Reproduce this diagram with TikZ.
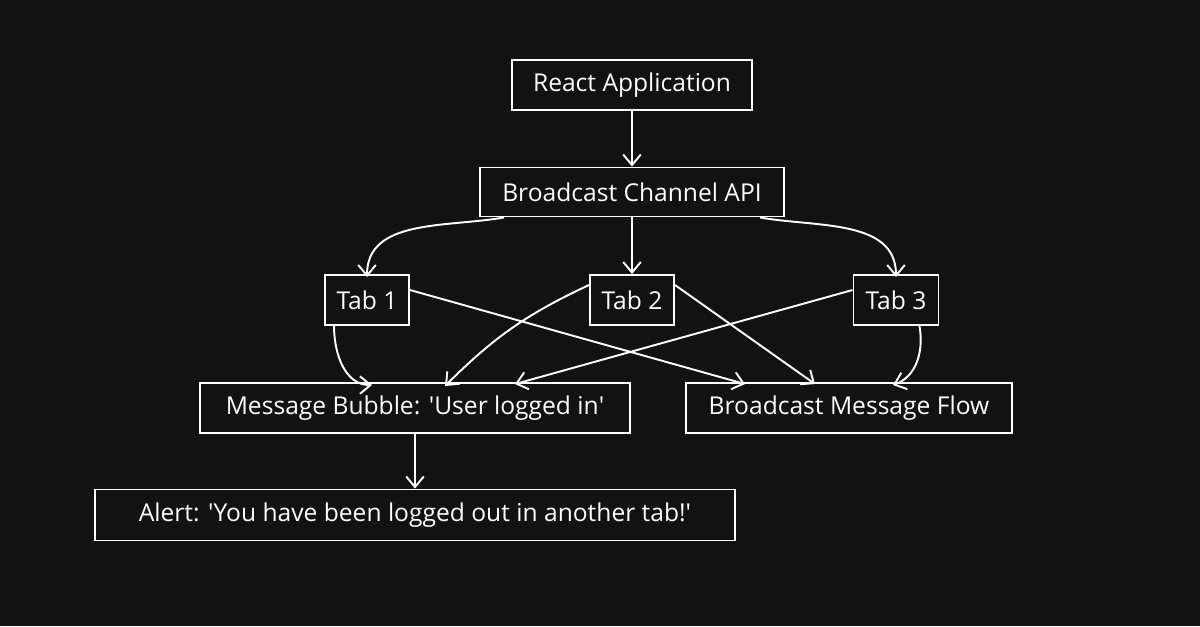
\documentclass[tikz,border=0pt]{standalone}
\usepackage{fontspec}
\usepackage{textcomp}
\setmainfont{Open Sans}
\usetikzlibrary{arrows.meta}
\definecolor{bgdark}{HTML}{121212}
\tikzset{
  box/.style={draw=white, line width=1.1pt, text=white, inner sep=0pt, font=\fontsize{14}{16}\selectfont},
  flow/.style={draw=white, line width=1.1pt, -{Straight Barb[length=6pt,width=10pt]}},
}
\begin{document}
\begin{tikzpicture}[x=0.02cm,y=-0.02cm]
\fill[bgdark] (0,0) rectangle (1200,626);
\useasboundingbox (0,0) rectangle (1200,626);
%
\node[box, minimum width=240*0.02cm, minimum height=50*0.02cm] (react) at (632,85) {React Application};
\node[box, minimum width=304*0.02cm, minimum height=49*0.02cm] (bca) at (632,192) {Broadcast Channel API};
%
\node[box, minimum width=84*0.02cm, minimum height=50*0.02cm] (tab1) at (367,300) {Tab 1};
\node[box, minimum width=84*0.02cm, minimum height=50*0.02cm] (tab2) at (632,300) {Tab 2};
\node[box, minimum width=85*0.02cm, minimum height=50*0.02cm] (tab3) at (896,300) {Tab 3};
%
\node[box, minimum width=430*0.02cm, minimum height=50*0.02cm] (bubble) at (415,408) {Message Bubble: \textquotesingle User logged in\textquotesingle};
\node[box, minimum width=326*0.02cm, minimum height=50*0.02cm] (msgflow) at (849,408) {Broadcast Message Flow};
\node[box, minimum width=640*0.02cm, minimum height=51*0.02cm] (alert) at (415,515) {Alert: \textquotesingle You have been logged out in another tab!\textquotesingle};
%
\draw[flow] (react) -- (bca);
\draw[flow] ([xshift=25*0.02cm]bca.south west) to[out=190,in=90] ([yshift=-3*0.02cm]tab1.north);
\draw[flow] (bca) -- (tab2);
\draw[flow] ([xshift=-25*0.02cm]bca.south east) to[out=-10,in=90] ([yshift=-3*0.02cm]tab3.north);
%
\draw[flow] ([xshift=10*0.02cm]tab1.south west) to[out=-90,in=180] ([xshift=-43*0.02cm,yshift=-3*0.02cm]bubble.north);
\draw[flow] ([yshift=10*0.02cm]tab1.east) -- ([xshift=-104*0.02cm,yshift=-2*0.02cm]msgflow.north);
\draw[flow] ([yshift=15*0.02cm]tab2.west) to[out=205,in=45] ([xshift=30*0.02cm,yshift=-4*0.02cm]bubble.north);
\draw[flow] ([yshift=15*0.02cm]tab2.east) -- ([xshift=-34*0.02cm,yshift=-2*0.02cm]msgflow.north);
\draw[flow] ([yshift=10*0.02cm]tab3.west) -- ([xshift=100*0.02cm,yshift=-2*0.02cm]bubble.north);
\draw[flow] ([xshift=-20*0.02cm]tab3.south east) to[out=-80,in=20] ([xshift=44*0.02cm,yshift=-3*0.02cm]msgflow.north);
%
\draw[flow] (bubble) -- (alert);
\end{tikzpicture}
\end{document}
